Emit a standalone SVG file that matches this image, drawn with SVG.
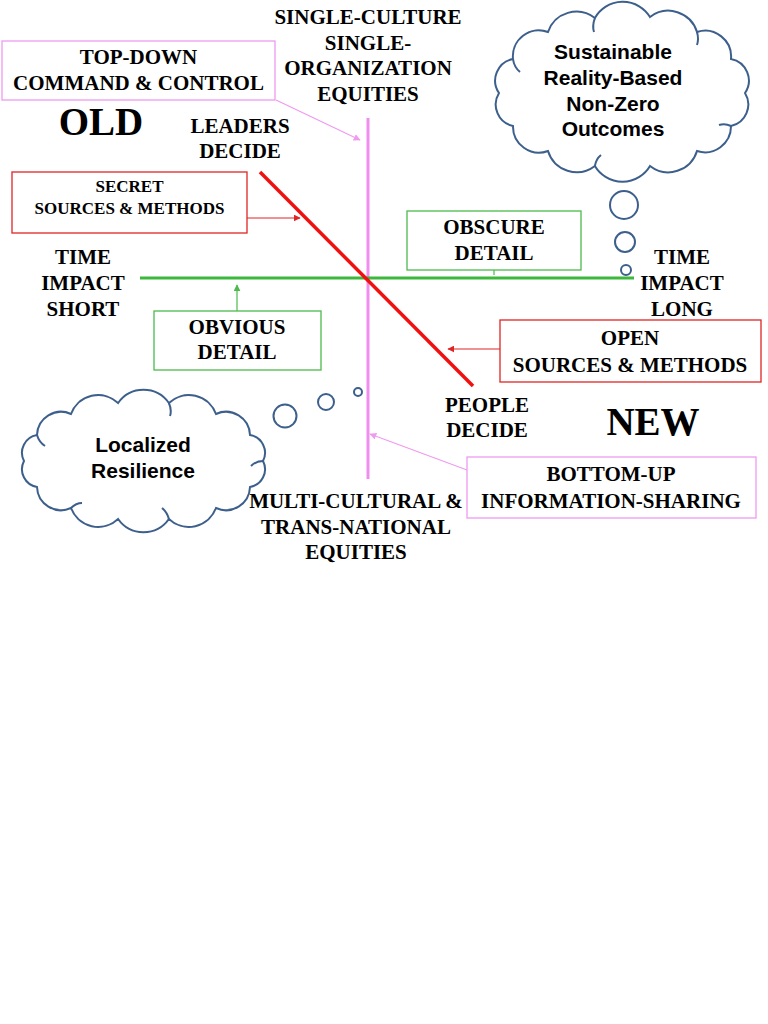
<svg xmlns="http://www.w3.org/2000/svg" width="768" height="1024" viewBox="0 0 768 1024">
<style>
.t{font-family:"Liberation Serif","Times New Roman",serif;font-weight:bold;font-size:21px;fill:#000;text-anchor:middle}
.s{font-size:17px}
.big{font-size:39px}
.c{font-family:"Liberation Sans",Arial,sans-serif;font-weight:bold;font-size:21px;fill:#000;text-anchor:middle}
.pinkbox{fill:#fff;stroke:#f09af0;stroke-width:1.3}
.redbox{fill:#fff;stroke:#e02424;stroke-width:1.3}
.greenbox{fill:#fff;stroke:#4cbb4c;stroke-width:1.3}
.cloud{fill:#fff;stroke:#3d5f8c;stroke-width:2}
.inner{fill:none;stroke:#3d5f8c;stroke-width:2}
</style>
<defs>
<marker id="ap" viewBox="0 0 10 10" refX="9" refY="5" markerWidth="7" markerHeight="7" markerUnits="userSpaceOnUse" orient="auto"><path d="M0,0 L10,5 L0,10 Z" fill="#f09af0"/></marker>
<marker id="ar" viewBox="0 0 10 10" refX="9" refY="5" markerWidth="7" markerHeight="7" markerUnits="userSpaceOnUse" orient="auto"><path d="M0,0 L10,5 L0,10 Z" fill="#e02424"/></marker>
<marker id="ag" viewBox="0 0 10 10" refX="9" refY="5" markerWidth="7" markerHeight="7" markerUnits="userSpaceOnUse" orient="auto"><path d="M0,0 L10,5 L0,10 Z" fill="#4cbb4c"/></marker>
</defs>
<rect width="768" height="1024" fill="#fff"/>

<g id="axes">
<line x1="368" y1="118" x2="368" y2="479" stroke="#f08ef0" stroke-width="3"/>
<line x1="140" y1="278" x2="634" y2="278" stroke="#3cb93c" stroke-width="3"/>
<line x1="260" y1="172" x2="473" y2="386" stroke="#f01010" stroke-width="3.5"/>
</g>

<g id="connectors" fill="none" stroke-width="1.2">
<line x1="276" y1="100" x2="360" y2="140" stroke="#f09af0" marker-end="url(#ap)"/>
<line x1="247" y1="218" x2="300" y2="218" stroke="#e02424" marker-end="url(#ar)"/>
<line x1="237" y1="311" x2="237" y2="285" stroke="#4cbb4c" marker-end="url(#ag)"/>
<line x1="494" y1="270" x2="494" y2="275" stroke="#4cbb4c"/>
<line x1="500" y1="349" x2="448" y2="349" stroke="#e02424" marker-end="url(#ar)"/>
<line x1="467" y1="470" x2="370" y2="434" stroke="#f09af0" marker-end="url(#ap)"/>
</g>

<g id="top-down">
<rect class="pinkbox" x="2" y="41" width="273" height="59"/>
<text class="t" x="138.5" y="64">TOP-DOWN</text>
<text class="t" x="138.5" y="90">COMMAND &amp; CONTROL</text>
</g>

<g id="single-culture">
<text class="t" x="368" y="24">SINGLE-CULTURE</text>
<text class="t" x="368" y="50">SINGLE-</text>
<text class="t" x="368" y="75">ORGANIZATION</text>
<text class="t" x="368" y="101">EQUITIES</text>
</g>

<g id="old"><text class="t big" x="101" y="135">OLD</text></g>

<g id="leaders-decide">
<text class="t" x="240" y="133">LEADERS</text>
<text class="t" x="240" y="158">DECIDE</text>
</g>

<g id="secret">
<rect class="redbox" x="12" y="172" width="235" height="61"/>
<text class="t s" x="129.5" y="192">SECRET</text>
<text class="t s" x="129.5" y="214">SOURCES &amp; METHODS</text>
</g>

<g id="obscure">
<rect class="greenbox" x="407" y="211" width="174" height="59"/>
<text class="t" x="494" y="234">OBSCURE</text>
<text class="t" x="494" y="260">DETAIL</text>
</g>

<g id="time-short">
<text class="t" x="83" y="264">TIME</text>
<text class="t" x="83" y="290">IMPACT</text>
<text class="t" x="83" y="316">SHORT</text>
</g>

<g id="time-long">
<text class="t" x="682" y="264">TIME</text>
<text class="t" x="682" y="290">IMPACT</text>
<text class="t" x="682" y="316">LONG</text>
</g>

<g id="obvious">
<rect class="greenbox" x="154" y="311" width="167" height="59"/>
<text class="t" x="237" y="334">OBVIOUS</text>
<text class="t" x="237" y="359">DETAIL</text>
</g>

<g id="open">
<rect class="redbox" x="500" y="320" width="261" height="62"/>
<text class="t" x="630" y="345">OPEN</text>
<text class="t" x="630" y="372">SOURCES &amp; METHODS</text>
</g>

<g id="people-decide">
<text class="t" x="487" y="412">PEOPLE</text>
<text class="t" x="487" y="437">DECIDE</text>
</g>

<g id="new"><text class="t big" x="653" y="435">NEW</text></g>

<g id="bottom-up">
<rect class="pinkbox" x="467" y="457" width="289" height="61"/>
<text class="t" x="611" y="481">BOTTOM-UP</text>
<text class="t" x="611" y="508">INFORMATION-SHARING</text>
</g>

<g id="multi-cultural">
<text class="t" x="356" y="508">MULTI-CULTURAL &amp;</text>
<text class="t" x="356" y="534">TRANS-NATIONAL</text>
<text class="t" x="356" y="559">EQUITIES</text>
</g>

<g id="cloud-outcomes">
<path class="cloud" d="M499,93 A22,22 0 0 1 513,59 A26,26 0 0 1 548,32 A30,30 0 0 1 594.9,18 A32,32 0 0 1 650,17 A30,30 0 0 1 697,32 A26,26 0 0 1 731,59 A22,22 0 0 1 745,93 A22,22 0 0 1 731,126 A26,26 0 0 1 697,151 A30,30 0 0 1 650,166 A32,32 0 0 1 594.9,166 A30,30 0 0 1 548,151 A26,26 0 0 1 513,126 A22,22 0 0 1 499,93 Z"/>
<path class="inner" d="M513,59 Q514,67 520,72 M594.9,18 Q592,26 594,32 M731,126 Q725,123 719,125 M594.9,166 Q596,159 601,155 M697,32 Q699,39 697,45"/>
<circle class="cloud" cx="624" cy="205" r="14"/>
<circle class="cloud" cx="625" cy="242" r="10"/>
<circle class="cloud" cx="626" cy="270" r="5"/>
<text class="c" x="613" y="59">Sustainable</text>
<text class="c" x="613" y="85">Reality-Based</text>
<text class="c" x="613" y="111">Non-Zero</text>
<text class="c" x="613" y="136">Outcomes</text>
</g>

<g id="cloud-resilience">
<path class="cloud" d="M24,461 A18,18 0 0 1 37,435 A24,24 0 0 1 71,414 A29,29 0 0 1 118.1,403 A31,31 0 0 1 168.9,403 A29,29 0 0 1 216,414 A24,24 0 0 1 250,435 A18,18 0 0 1 263,461 A18,18 0 0 1 250,487 A24,24 0 0 1 216,508 A29,29 0 0 1 168.9,519 A31,31 0 0 1 118.1,519 A29,29 0 0 1 71,508 A24,24 0 0 1 37,487 A18,18 0 0 1 24,461 Z"/>
<path class="inner" d="M37,435 Q39,442 45,446 M168.9,403 Q172,410 170,416 M263,461 Q256,461 251,466 M168.9,519 Q167,512 162,508 M71,508 Q76,503 82,503"/>
<circle class="cloud" cx="285" cy="416" r="11.5"/>
<circle class="cloud" cx="326" cy="402" r="8"/>
<circle class="cloud" cx="358" cy="392" r="4"/>
<text class="c" x="143" y="452">Localized</text>
<text class="c" x="143" y="478">Resilience</text>
</g>
</svg>
